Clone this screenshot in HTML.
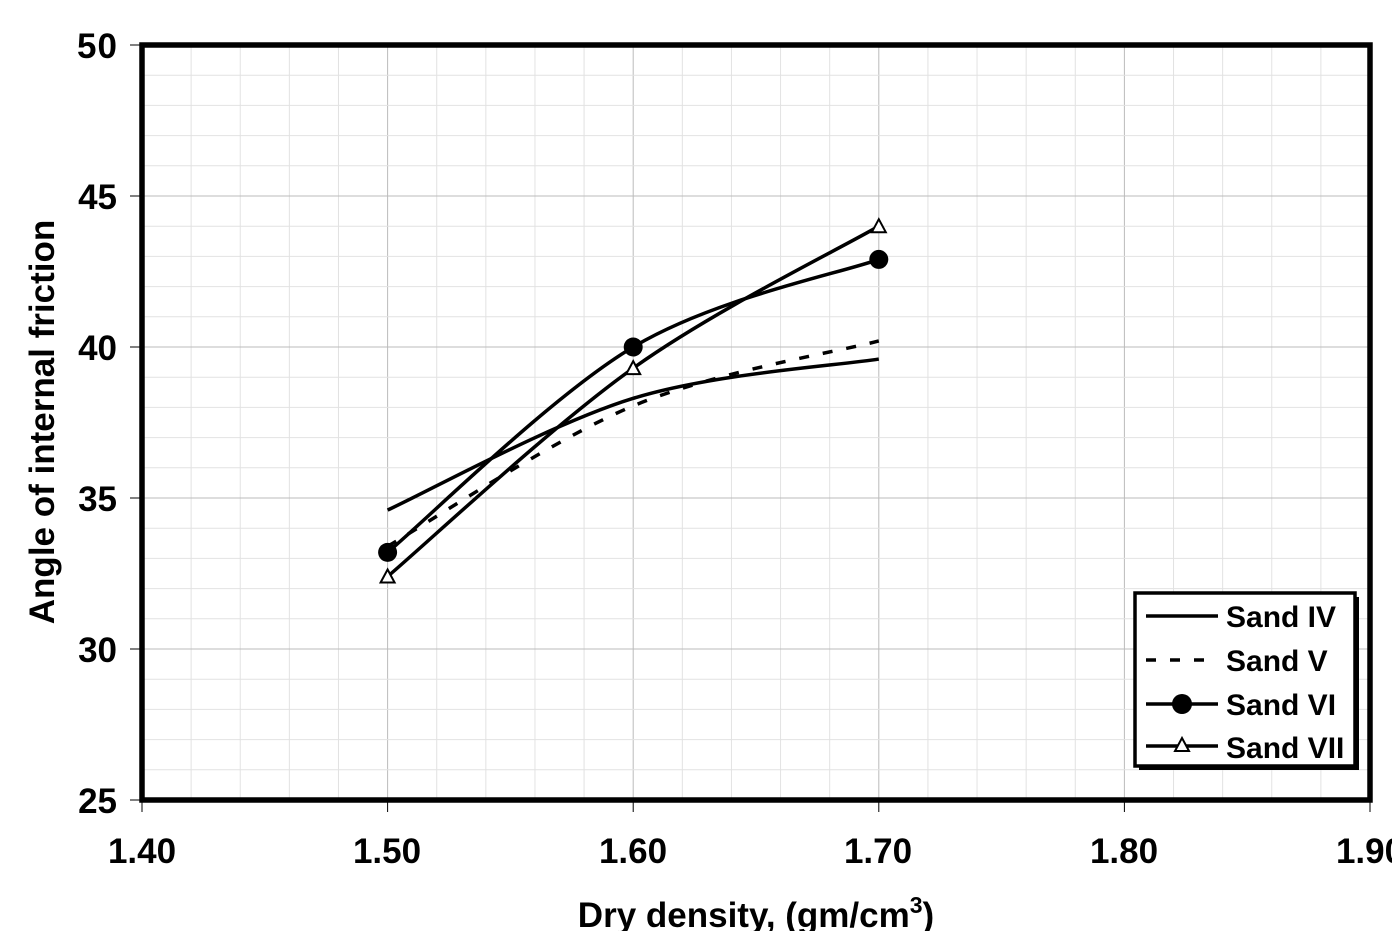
<!DOCTYPE html>
<html><head><meta charset="utf-8"><style>
html,body{margin:0;padding:0;background:#fff;}
svg{display:block;font-family:"Liberation Sans",Arial,sans-serif;font-weight:bold;}
</style></head><body>
<svg id="s" width="1392" height="931" viewBox="0 0 1392 931" xmlns="http://www.w3.org/2000/svg">
<g id="grid"></g>
<g id="series" fill="none" stroke="#000" stroke-width="3.5"></g>
<rect x="142" y="45" width="1228" height="755" fill="none" stroke="#000" stroke-width="5.5"/>
<g font-size="35" text-anchor="end">
<text x="117" y="58" textLength="40">50</text><text x="117" y="209">45</text><text x="117" y="360">40</text>
<text x="117" y="511">35</text><text x="117" y="662">30</text><text x="117" y="813">25</text>
</g>
<g font-size="35" text-anchor="middle">
<text x="142" y="863">1.40</text><text x="387" y="863">1.50</text><text x="633" y="863">1.60</text>
<text x="878" y="863">1.70</text><text x="1124" y="863">1.80</text><text x="1370" y="863">1.90</text>
</g>
<text x="756" y="927" font-size="35" text-anchor="middle">Dry density, (gm/cm<tspan dy="-14" font-size="23">3</tspan><tspan dy="14">)</tspan></text>
<text transform="translate(54,422) rotate(-90)" font-size="35" text-anchor="middle">Angle of internal friction</text>
<rect x="1139" y="597" width="220" height="173" fill="#000"/>
<rect x="1135" y="593" width="220" height="173" fill="#fff" stroke="#000" stroke-width="3.5"/>
<g font-size="30">
<text x="1226" y="627">Sand IV</text><text x="1226" y="671">Sand V</text>
<text x="1226" y="715">Sand VI</text><text x="1226" y="758">Sand VII</text>
</g>
<g stroke="#000" stroke-width="3.5">
<line x1="1146" y1="616" x2="1218" y2="616"/>
<line x1="1146" y1="660" x2="1218" y2="660" stroke-dasharray="10,14"/>
<line x1="1146" y1="704" x2="1218" y2="704"/>
<line x1="1146" y1="746" x2="1218" y2="746"/>
</g>
<circle cx="1182" cy="704" r="10" fill="#000"/>
<polygon points="1182,738 1189,751 1175,751" fill="#fff" stroke="#000" stroke-width="2"/>
<g id="marks"></g>
</svg>
<script>
var NS="http://www.w3.org/2000/svg";
function X(v){return 142+(v-1.4)*2456;}
function Y(v){return 800-(v-25)*30.2;}
var g=document.getElementById('grid');
function ln(p,x1,y1,x2,y2,c){var l=document.createElementNS(NS,'line');l.setAttribute('x1',x1);l.setAttribute('y1',y1);l.setAttribute('x2',x2);l.setAttribute('y2',y2);l.setAttribute('stroke',c);l.setAttribute('stroke-width',1);p.appendChild(l);}
for(var i=1;i<25;i++){var x=142+i*1228/25;ln(g,x,45,x,800,i%5==0?'#bbb':'#e2e2e2');}
for(var j=1;j<25;j++){var y=45+j*755/25;ln(g,142,y,1370,y,j%5==0?'#bbb':'#e2e2e2');}
for(var j=0;j<=5;j++){ln(g,130,45+j*151,142,45+j*151,'#000');}
for(var i=0;i<=5;i++){var x=142+i*245.6;ln(g,x,800,x,812,'#000');}
function path(pts,dash){
 var P=pts.map(function(p){return [X(p[0]),Y(p[1])];});
 var d='M'+P[0][0]+','+P[0][1];
 for(var k=0;k<P.length-1;k++){
  var p0=P[k-1]||P[k],p1=P[k],p2=P[k+1],p3=P[k+2]||P[k+1];
  var c1=[p1[0]+(p2[0]-p0[0])/6,p1[1]+(p2[1]-p0[1])/6];
  var c2=[p2[0]-(p3[0]-p1[0])/6,p2[1]-(p3[1]-p1[1])/6];
  d+=' C'+c1+' '+c2+' '+p2;
 }
 var e=document.createElementNS(NS,'path');e.setAttribute('d',d);if(dash)e.setAttribute('stroke-dasharray',dash);
 document.getElementById('series').appendChild(e);
}
path([[1.5,34.6],[1.6,38.3],[1.7,39.6]]);
path([[1.5,33.4],[1.6,38.05],[1.7,40.2]],'10,14');
path([[1.5,33.2],[1.6,40.0],[1.7,42.9]]);
path([[1.5,32.4],[1.6,39.3],[1.7,44.0]]);
var m=document.getElementById('marks');
[[1.5,33.2],[1.6,40.0],[1.7,42.9]].forEach(function(p){var c=document.createElementNS(NS,'circle');c.setAttribute('cx',X(p[0]));c.setAttribute('cy',Y(p[1]));c.setAttribute('r',9.5);c.setAttribute('fill','#000');m.appendChild(c);});
[[1.5,32.4],[1.6,39.3],[1.7,44.0]].forEach(function(p){var x=X(p[0]),y=Y(p[1]);var t=document.createElementNS(NS,'polygon');t.setAttribute('points',x+','+(y-7)+' '+(x+7)+','+(y+6)+' '+(x-7)+','+(y+6));t.setAttribute('fill','#fff');t.setAttribute('stroke','#000');t.setAttribute('stroke-width',2);m.appendChild(t);});
</script>
</body></html>
